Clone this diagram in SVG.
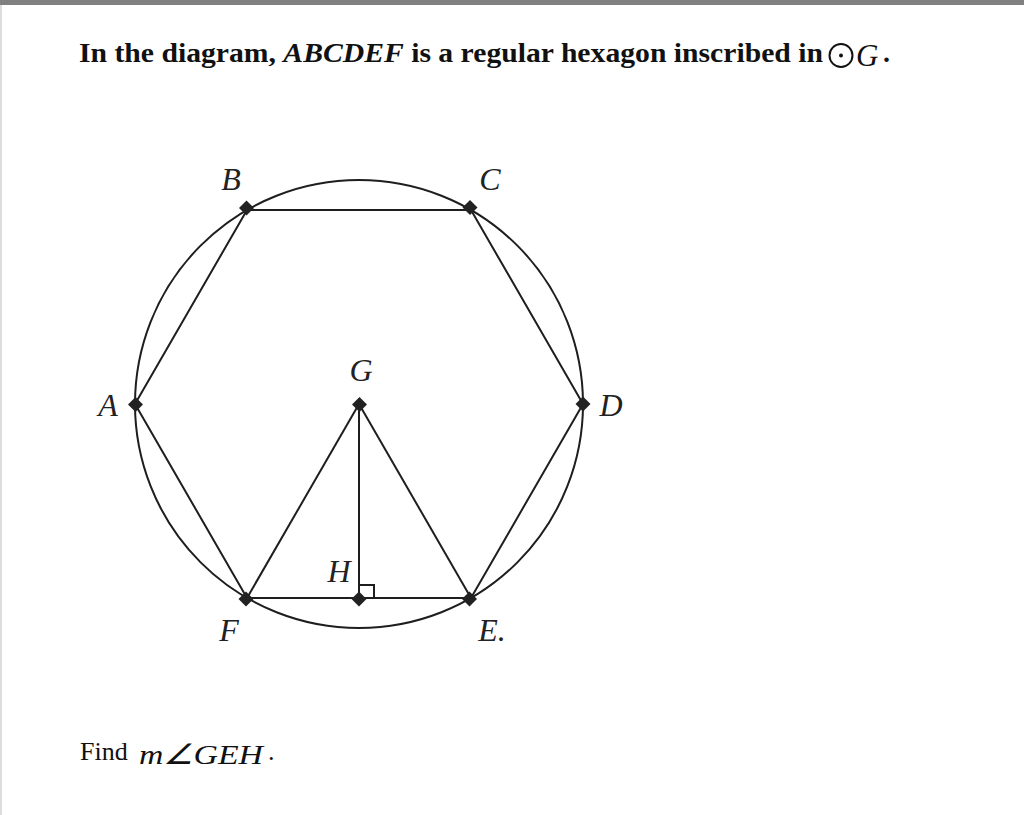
<svg xmlns="http://www.w3.org/2000/svg" width="1024" height="815" viewBox="0 0 1024 815">
<style>
.ln{stroke:#1e1e1e;stroke-width:2;fill:none}
.lbl{font-family:"Liberation Serif","DejaVu Serif",serif;font-style:italic;font-size:32px;fill:#222;text-anchor:middle}
.pt{fill:#222}
</style>
<defs>
<path id="dia" d="M0,-7.5 L7.5,0 L0,7.5 L-7.5,0 Z"/>
</defs>
<rect x="0" y="0" width="1024" height="815" fill="#ffffff"/>
<rect x="0" y="0" width="1024" height="5" fill="#808080"/>
<rect x="0" y="5" width="2" height="810" fill="#dcdcdc"/>

<g id="title">
<text x="79" y="62" font-family="Liberation Serif, serif" font-weight="bold" font-size="28" fill="#111" textLength="744" lengthAdjust="spacingAndGlyphs">In the diagram, <tspan font-style="italic">ABCDEF</tspan> is a regular hexagon inscribed in</text>
<circle cx="841" cy="55.5" r="11.5" fill="none" stroke="#111" stroke-width="2"/>
<circle cx="841" cy="55.5" r="2" fill="#111"/>
<text x="856" y="66" font-family="Liberation Serif, serif" font-style="italic" font-size="31" fill="#111">G</text>
<text x="883" y="62" font-family="Liberation Serif, serif" font-weight="bold" font-size="28" fill="#111">.</text>
</g>

<g id="connectors">
<circle class="ln" cx="359" cy="404" r="224"/>
<polygon class="ln" points="135,404 247,210 471,210 583,404 471,598 247,598"/>
<line class="ln" x1="359" y1="404" x2="247" y2="598"/>
<line class="ln" x1="359" y1="404" x2="471" y2="598"/>
<line class="ln" x1="359" y1="404" x2="359" y2="598"/>
<polyline class="ln" points="360,585 374,585 374,598"/>
</g>

<g id="node-A"><use href="#dia" x="135.5" y="404.5" class="pt"/><text class="lbl" x="108" y="416">A</text></g>
<g id="node-B"><use href="#dia" x="246.5" y="208" class="pt"/><text class="lbl" x="231" y="190">B</text></g>
<g id="node-C"><use href="#dia" x="470" y="207.5" class="pt"/><text class="lbl" x="490" y="190">C</text></g>
<g id="node-D"><use href="#dia" x="583" y="404" class="pt"/><text class="lbl" x="611" y="416">D</text></g>
<g id="node-E"><use href="#dia" x="469.5" y="599" class="pt"/><text class="lbl" x="492" y="641">E.</text></g>
<g id="node-F"><use href="#dia" x="246" y="599" class="pt"/><text class="lbl" x="229" y="641">F</text></g>
<g id="node-G"><use href="#dia" x="359.5" y="404.5" class="pt"/><text class="lbl" x="361" y="381">G</text></g>
<g id="node-H"><use href="#dia" x="359" y="599" class="pt"/><text class="lbl" x="339" y="582">H</text></g>

<g id="question">
<text x="80" y="760" font-family="Liberation Serif, serif" font-size="26" fill="#111">Find</text>
<text x="139" y="764" font-family="Liberation Serif, serif" font-style="italic" font-size="28" fill="#111" textLength="124" lengthAdjust="spacingAndGlyphs">m∠GEH</text>
<text x="268" y="760" font-family="Liberation Serif, serif" font-size="26" fill="#111">.</text>
</g>
</svg>
